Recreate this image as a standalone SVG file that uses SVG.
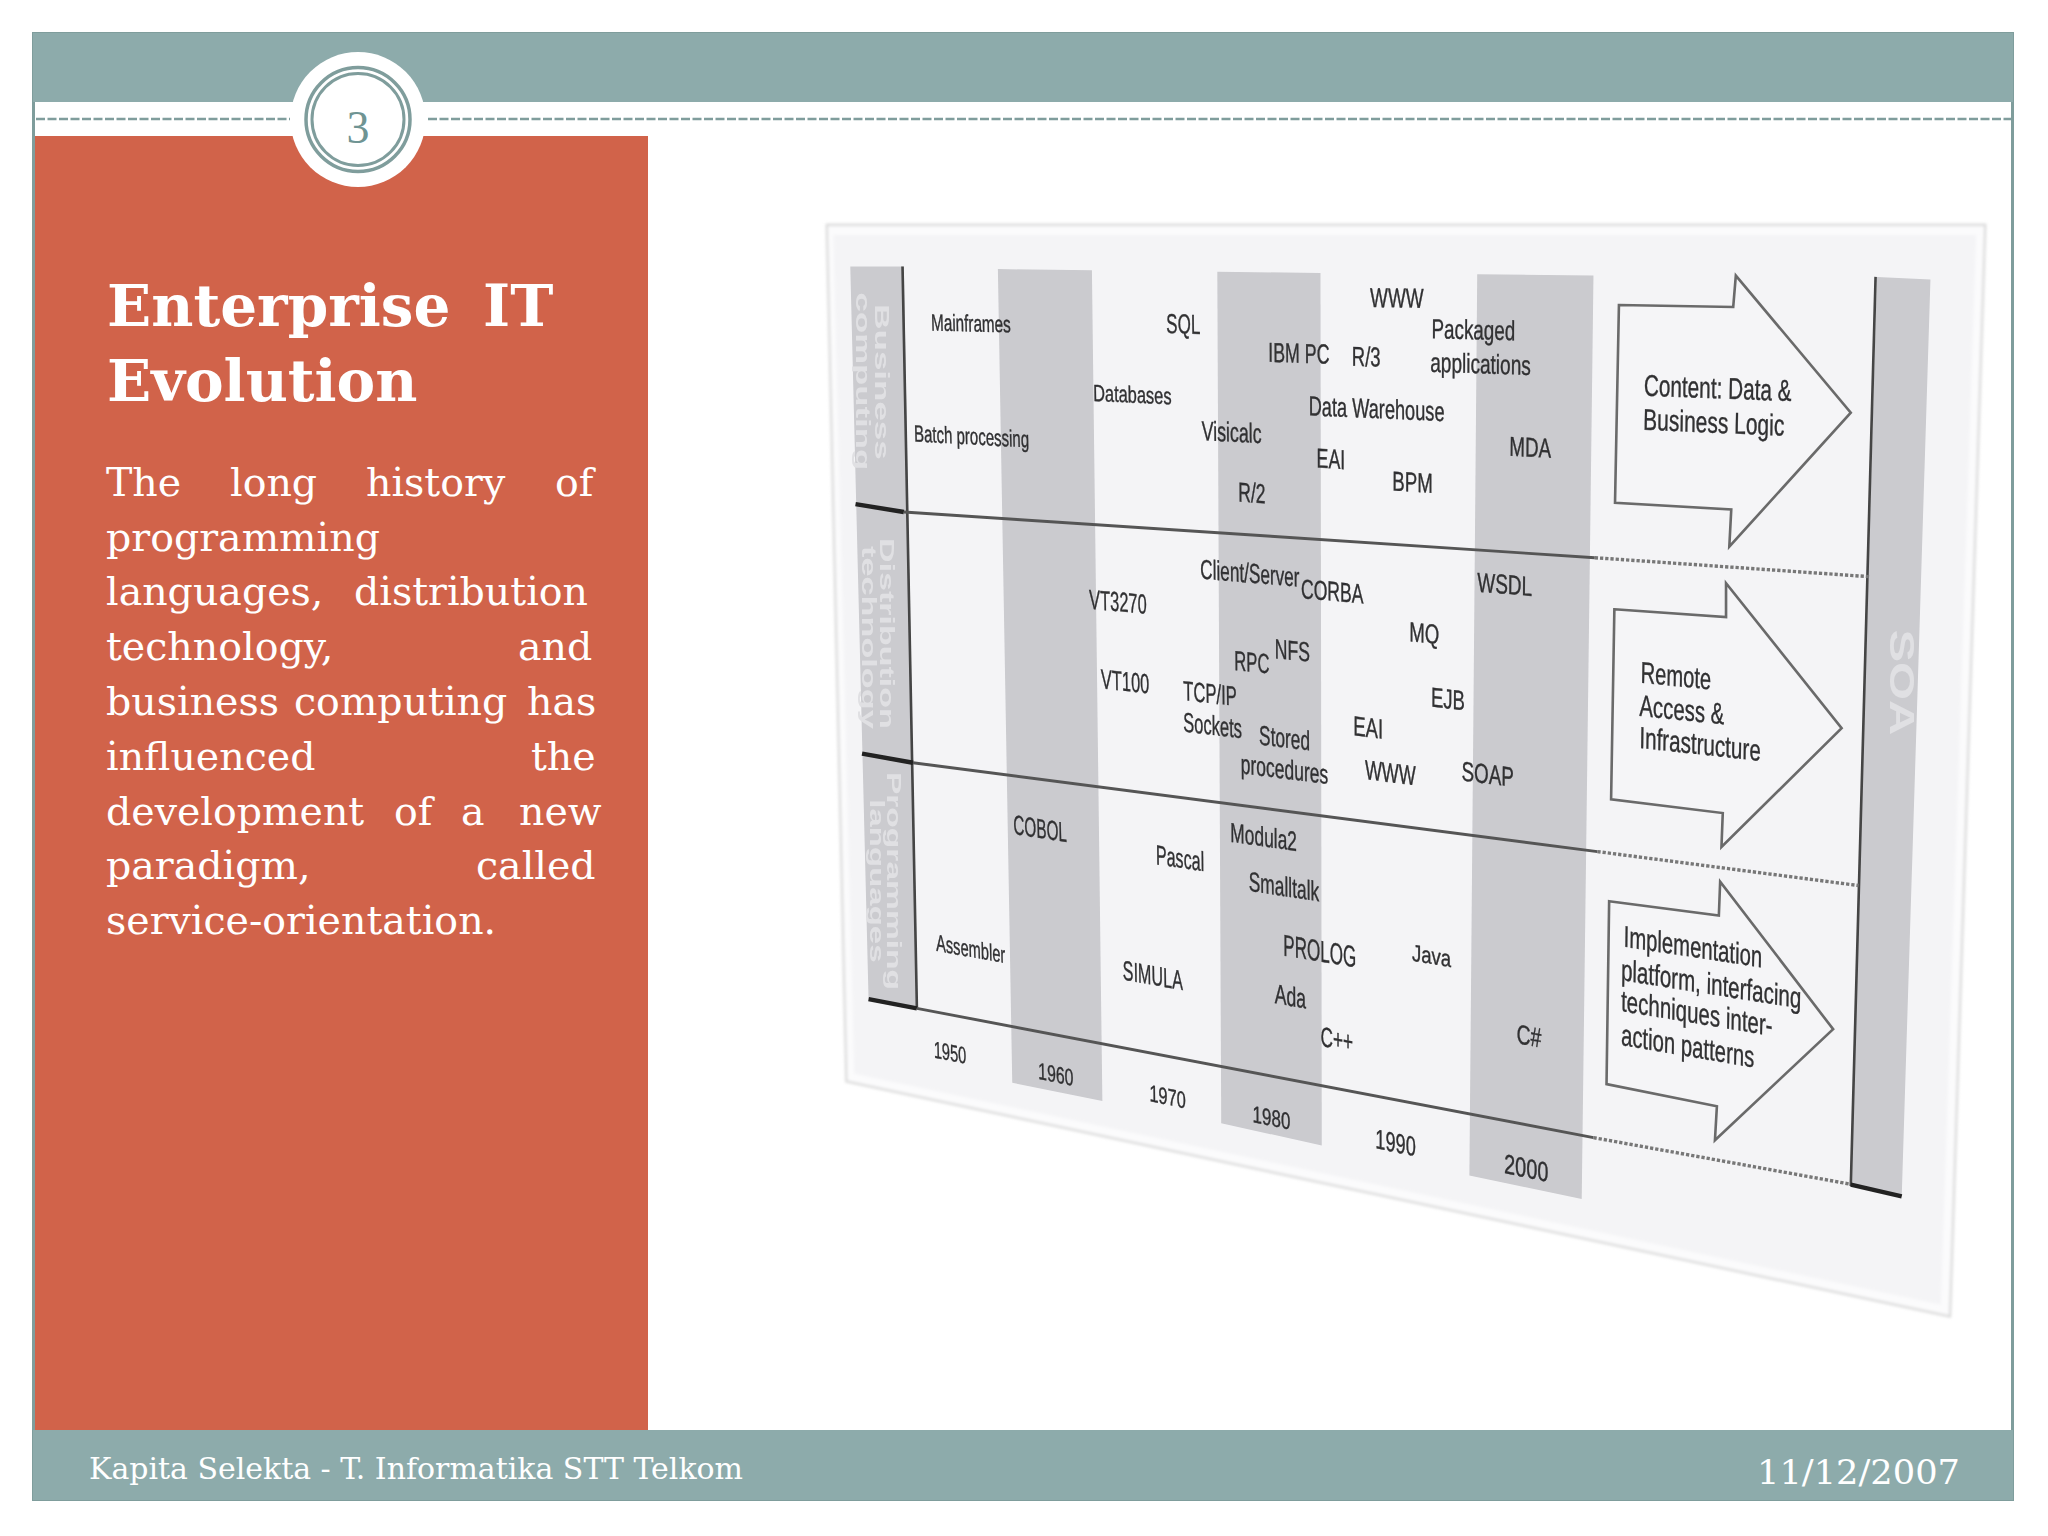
<svg xmlns="http://www.w3.org/2000/svg" width="2048" height="1536" viewBox="0 0 2048 1536">
<style>
.bar{fill:#8dabab}
.sl{font-family:"DejaVu Serif","Liberation Serif",serif;fill:#fff}
.t{font-size:58px;font-weight:700}
.b{font-size:39.500px}
.f{font-size:29px}
.band{fill:#cbcbcf}
.ln{stroke:#555;stroke-width:2.2;fill:none}
.dot{stroke:#777;stroke-width:2.6;stroke-dasharray:2.5 1.5;fill:none}
.thk{stroke:#222;stroke-width:3.4;fill:none}
.v{stroke:#444;stroke-width:2;fill:none}
.ar{fill:#f5f5f7;stroke:#6a6a6a;stroke-width:2}
.p text{font-family:"Liberation Sans",Arial,sans-serif;fill:#303032;stroke:#303032;stroke-width:.3}
.s19{font-size:18px}.s21{font-size:21px}.s23{font-size:23px}
.w text{font-family:"Liberation Sans",Arial,sans-serif;font-weight:700;fill:#e0e0e3;font-size:15px}
</style>
<defs><filter id="soft" x="-5%" y="-5%" width="110%" height="110%"><feGaussianBlur stdDeviation="0.55"/></filter>
<filter id="edge" x="-5%" y="-5%" width="110%" height="110%"><feGaussianBlur stdDeviation="1.2"/></filter></defs>
<rect width="2048" height="1536" fill="#fff"/>
<rect x="33.500" y="33.500" width="1979" height="1466" fill="#fff" stroke="#7f9d9c" stroke-width="3"/>
<rect class="bar" x="33" y="33" width="1980" height="69"/>
<rect x="35" y="136" width="613" height="1294" fill="#d1634a"/>
<rect class="bar" x="33" y="1430" width="1980" height="70"/>
<path d="M36 119H290M428 119H2012" stroke="#7f9d9c" stroke-width="2.500" stroke-dasharray="9 2.5" fill="none"/>
<g id="page-number">
<circle cx="358" cy="119.500" r="67.500" fill="#fff"/>
<circle cx="358" cy="119.500" r="52" fill="none" stroke="#7f9d9c" stroke-width="3.500"/>
<circle cx="358" cy="119.500" r="46" fill="none" stroke="#7f9d9c" stroke-width="3"/>
<text x="358" y="143" text-anchor="middle" font-family="'Liberation Serif',serif" font-size="46" fill="#6f9493">3</text>
</g>
<g id="title" class="sl t"><text x="107" y="326"><tspan x="107">Enterprise</tspan><tspan x="483">IT</tspan></text><text x="107" y="401">Evolution</text></g>
<g id="body" class="sl b">
<text y="496"><tspan x="106">The</tspan><tspan x="230">long</tspan><tspan x="366">history</tspan><tspan x="555">of</tspan></text>
<text y="551" x="106">programming</text>
<text y="605"><tspan x="106">languages,</tspan><tspan x="354">distribution</tspan></text>
<text y="660"><tspan x="106">technology,</tspan><tspan x="518">and</tspan></text>
<text y="715"><tspan x="106">business</tspan><tspan x="294">computing</tspan><tspan x="527">has</tspan></text>
<text y="770"><tspan x="106">influenced</tspan><tspan x="531">the</tspan></text>
<text y="825"><tspan x="106">development</tspan><tspan x="394">of</tspan><tspan x="461">a</tspan><tspan x="519">new</tspan></text>
<text y="879"><tspan x="106">paradigm,</tspan><tspan x="476">called</tspan></text>
<text y="934" x="106">service-orientation.</text>
</g>
<text id="footer-left" class="sl f" x="89" y="1479" textLength="654" lengthAdjust="spacingAndGlyphs">Kapita Selekta - T. Informatika STT Telkom</text>
<text id="footer-date" class="sl" font-size="34" x="1757" y="1484" textLength="203" lengthAdjust="spacingAndGlyphs">11/12/2007</text>
<g id="picture" transform="scale(1.30612)">
<polygon filter="url(#edge)" points="633,172 1520,172 1493,1008 648,828" fill="#fbfbfc" stroke="#d4d4d4" stroke-width="1.500"/>
<polygon filter="url(#edge)" points="638,180 1513,180 1486,999 654,822" fill="#f4f4f6"/>
<g filter="url(#soft)">
<polygon class="band" points="651,204 692,204 702,772 665,765"/>
<polygon class="band" points="764,206 836,207 844,843 775,829"/>
<polygon class="band" points="932,208 1011,209 1012,877 935,860"/>
<polygon class="band" points="1131,210 1220,211 1211,918 1125,900"/>
<polygon class="band" points="1437,212 1478,214 1456,916 1417,908"/>
<path class="v" d="M691 204L702 772M1436 212L1417 908"/>
<path class="thk" d="M655 386L692 392M660 577L699 584M665 765L702 772M1417 907L1456 916"/>
<path class="ln" d="M692 392L1221 427M699 584L1223 652M702 772L1220 871"/>
<path class="dot" d="M1221 427L1431 441.500M1223 652L1423 678M1220 871L1416 906.500"/>
<polygon class="ar" points="1239.500,233.500 1327,235 1329,211 1417,316 1324,418.500 1325.500,390 1236.500,385"/>
<polygon class="ar" points="1236,466.500 1321.500,472.500 1321.500,446.500 1410,557.500 1318,648.500 1319,622.500 1233.500,612"/>
<polygon class="ar" points="1232,690 1316,701 1317,675 1403.500,788 1313,873 1314.500,847 1230,830"/>
<g class="w">
<text transform="translate(670 233) rotate(90)" textLength="119" lengthAdjust="spacingAndGlyphs">Business</text>
<text transform="translate(655 224) rotate(90)" textLength="136" lengthAdjust="spacingAndGlyphs">computing</text>
<text transform="translate(674 412) rotate(90)" textLength="146" lengthAdjust="spacingAndGlyphs">Distribution</text>
<text transform="translate(660 418) rotate(90)" textLength="140" lengthAdjust="spacingAndGlyphs">technology</text>
<text transform="translate(679 591) rotate(90)" textLength="167" lengthAdjust="spacingAndGlyphs">Programming</text>
<text transform="translate(666 612) rotate(90)" textLength="125" lengthAdjust="spacingAndGlyphs">languages</text>
<text transform="translate(1447 482) rotate(90)" textLength="81" lengthAdjust="spacingAndGlyphs" style="font-size:27px">SOA</text>
</g>
<g class="p">
<text class="s19" transform="matrix(1 .026 .024 1 713 253)" textLength="61" lengthAdjust="spacingAndGlyphs">Mainframes</text>
<text class="s19" transform="matrix(1 .052 .025 1 700 338)" textLength="88" lengthAdjust="spacingAndGlyphs">Batch processing</text>
<text class="s19" transform="matrix(1 .042 .015 1 837 307)" textLength="60" lengthAdjust="spacingAndGlyphs">Databases</text>
<text class="s21" transform="matrix(1 .025 .011 1 893 255)" textLength="26" lengthAdjust="spacingAndGlyphs">SQL</text>
<text class="s21" transform="matrix(1 .018 0 1 1049 235)" textLength="41" lengthAdjust="spacingAndGlyphs">WWW</text>
<text class="s21" transform="matrix(1 .031 .005 1 971 277)" textLength="47" lengthAdjust="spacingAndGlyphs">IBM PC</text>
<text class="s21" transform="matrix(1 .032 0 1 1035 280)" textLength="22" lengthAdjust="spacingAndGlyphs">R/3</text>
<text class="s21" transform="matrix(1 .025 -.004 1 1096 259)" textLength="64" lengthAdjust="spacingAndGlyphs">Packaged</text>
<text class="s21" transform="matrix(1 .032 -.004 1 1095 284.600)" textLength="77" lengthAdjust="spacingAndGlyphs">applications</text>
<text class="s21" transform="matrix(1 .042 .003 1 1002 318)" textLength="104" lengthAdjust="spacingAndGlyphs">Data Warehouse</text>
<text class="s21" transform="matrix(1 .049 .009 1 920 337)" textLength="46" lengthAdjust="spacingAndGlyphs">Visicalc</text>
<text class="s21" transform="matrix(1 .055 .002 1 1008 358)" textLength="22" lengthAdjust="spacingAndGlyphs">EAI</text>
<text class="s21" transform="matrix(1 .058 -.002 1 1066 375.500)" textLength="31" lengthAdjust="spacingAndGlyphs">BPM</text>
<text class="s21" transform="matrix(1 .063 .007 1 948 384)" textLength="21" lengthAdjust="spacingAndGlyphs">R/2</text>
<text class="s21" transform="matrix(1 .05 -.009 1 1155.500 349)" textLength="32" lengthAdjust="spacingAndGlyphs">MDA</text>
<text class="s23" transform="matrix(1 .036 -.017 1 1258.500 303)" textLength="113" lengthAdjust="spacingAndGlyphs">Content: Data &amp;</text>
<text class="s23" transform="matrix(1 .043 -.017 1 1258 329)" textLength="108" lengthAdjust="spacingAndGlyphs">Business Logic</text>
<text class="s21" transform="matrix(1 .081 .009 1 919 443)" textLength="76" lengthAdjust="spacingAndGlyphs">Client/Server</text>
<text class="s21" transform="matrix(1 .082 .003 1 996 458)" textLength="48" lengthAdjust="spacingAndGlyphs">CORBA</text>
<text class="s21" transform="matrix(1 .09 .015 1 834 466)" textLength="44" lengthAdjust="spacingAndGlyphs">VT3270</text>
<text class="s21" transform="matrix(1 .079 -.007 1 1131 453)" textLength="42" lengthAdjust="spacingAndGlyphs">WSDL</text>
<text class="s21" transform="matrix(1 .091 -.003 1 1079 491)" textLength="23" lengthAdjust="spacingAndGlyphs">MQ</text>
<text class="s21" transform="matrix(1 .097 .005 1 976 504)" textLength="27" lengthAdjust="spacingAndGlyphs">NFS</text>
<text class="s21" transform="matrix(1 .1 .007 1 945 513)" textLength="27" lengthAdjust="spacingAndGlyphs">RPC</text>
<text class="s21" transform="matrix(1 .109 .015 1 843 527)" textLength="37" lengthAdjust="spacingAndGlyphs">VT100</text>
<text class="s21" transform="matrix(1 .109 .01 1 906 536)" textLength="41" lengthAdjust="spacingAndGlyphs">TCP/IP</text>
<text class="s21" transform="matrix(1 .116 .01 1 906 560)" textLength="45" lengthAdjust="spacingAndGlyphs">Sockets</text>
<text class="s21" transform="matrix(1 .118 .005 1 964 570)" textLength="39" lengthAdjust="spacingAndGlyphs">Stored</text>
<text class="s21" transform="matrix(1 .124 .007 1 950 592)" textLength="67" lengthAdjust="spacingAndGlyphs">procedures</text>
<text class="s21" transform="matrix(1 .113 0 1 1036 563)" textLength="23" lengthAdjust="spacingAndGlyphs">EAI</text>
<text class="s21" transform="matrix(1 .123 0 1 1045 596.500)" textLength="39" lengthAdjust="spacingAndGlyphs">WWW</text>
<text class="s21" transform="matrix(1 .105 -.004 1 1095.600 541)" textLength="26" lengthAdjust="spacingAndGlyphs">EJB</text>
<text class="s21" transform="matrix(1 .12 -.006 1 1119 597.600)" textLength="40" lengthAdjust="spacingAndGlyphs">SOAP</text>
<text class="s23" transform="matrix(1 .096 -.017 1 1256 522.700)" textLength="54" lengthAdjust="spacingAndGlyphs">Remote</text>
<text class="s23" transform="matrix(1 .102 -.017 1 1255 548)" textLength="65" lengthAdjust="spacingAndGlyphs">Access &amp;</text>
<text class="s23" transform="matrix(1 .109 -.017 1 1255 572.500)" textLength="93" lengthAdjust="spacingAndGlyphs">Infrastructure</text>
<text class="s21" transform="matrix(1 .146 .02 1 776 638.600)" textLength="41" lengthAdjust="spacingAndGlyphs">COBOL</text>
<text class="s21" transform="matrix(1 .148 .011 1 885 661.600)" textLength="37" lengthAdjust="spacingAndGlyphs">Pascal</text>
<text class="s21" transform="matrix(1 .14 .007 1 942 644.400)" textLength="51" lengthAdjust="spacingAndGlyphs">Modula2</text>
<text class="s21" transform="matrix(1 .151 .006 1 956 682)" textLength="54" lengthAdjust="spacingAndGlyphs">Smalltalk</text>
<text class="s23" transform="matrix(1 .164 .004 1 982.500 731.500)" textLength="56" lengthAdjust="spacingAndGlyphs">PROLOG</text>
<text class="s19" transform="matrix(1 .161 -.003 1 1081 735.600)" textLength="30" lengthAdjust="spacingAndGlyphs">Java</text>
<text class="s19" transform="matrix(1 .177 .024 1 716.800 728)" textLength="53" lengthAdjust="spacingAndGlyphs">Assembler</text>
<text class="s21" transform="matrix(1 .175 .013 1 859.700 750)" textLength="46" lengthAdjust="spacingAndGlyphs">SIMULA</text>
<text class="s21" transform="matrix(1 .175 .005 1 976 768)" textLength="24" lengthAdjust="spacingAndGlyphs">Ada</text>
<text class="s21" transform="matrix(1 .182 .002 1 1011 800.600)" textLength="25" lengthAdjust="spacingAndGlyphs">C++</text>
<text class="s21" transform="matrix(1 .175 -.009 1 1161 798.700)" textLength="19" lengthAdjust="spacingAndGlyphs">C#</text>
<text class="s23" transform="matrix(1 .151 -.016 1 1243 724.700)" textLength="106" lengthAdjust="spacingAndGlyphs">Implementation</text>
<text class="s23" transform="matrix(1 .158 -.016 1 1241 750.300)" textLength="138" lengthAdjust="spacingAndGlyphs">platform, interfacing</text>
<text class="s23" transform="matrix(1 .165 -.016 1 1241 774)" textLength="116" lengthAdjust="spacingAndGlyphs">techniques inter-</text>
<text class="s23" transform="matrix(1 .17 -.016 1 1241 800)" textLength="102" lengthAdjust="spacingAndGlyphs">action patterns</text>
<text class="s19" transform="matrix(1 .2 .024 1 715 809.600)" textLength="25" lengthAdjust="spacingAndGlyphs">1950</text>
<text class="s19" transform="matrix(1 .203 .018 1 795 826)" textLength="27" lengthAdjust="spacingAndGlyphs">1960</text>
<text class="s19" transform="matrix(1 .203 .012 1 880 843)" textLength="28" lengthAdjust="spacingAndGlyphs">1970</text>
<text class="s19" transform="matrix(1 .203 .006 1 959 859)" textLength="29" lengthAdjust="spacingAndGlyphs">1980</text>
<text class="s21" transform="matrix(1 .203 0 1 1053 879)" textLength="31" lengthAdjust="spacingAndGlyphs">1990</text>
<text class="s21" transform="matrix(1 .203 -.009 1 1151.500 898)" textLength="34" lengthAdjust="spacingAndGlyphs">2000</text>
</g>
</g>
</g>
</svg>
